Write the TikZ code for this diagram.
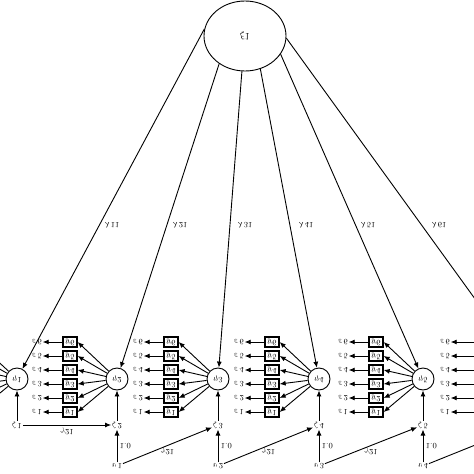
\documentclass[tikz,border=0pt]{standalone}
\usepackage{graphicx}
\usetikzlibrary{arrows.meta,shapes.geometric}
\newcommand{\flp}[1]{\scalebox{1}[-1]{#1}}
\begin{document}
\begin{tikzpicture}[x=1pt,y=-1pt,
  >={Latex[length=6pt,width=5pt]}, line width=0.9pt,
  lat/.style={circle,draw,minimum size=22pt,inner sep=0pt,font=\footnotesize},
  obs/.style={draw,line width=1.3pt,minimum width=14pt,minimum height=10pt,inner sep=0.5pt,font=\footnotesize},
  lab/.style={inner sep=0.5pt,font=\footnotesize}]
\useasboundingbox (0,0) rectangle (474,474);
\clip (0,0) rectangle (474,474);
\fill[white] (0,0) rectangle (474,474);
\node[ellipse,draw,minimum width=82pt,minimum height=70pt,font=\normalsize] (xi) at (245,36) {\flp{$\xi$1}};
% column 1 (its indicators lie beyond the left edge)
\node[lat] (eta1) at (17,379) {\flp{$\eta$\kern0.5pt 1}};
\node[lab] (zeta1) at (17,425) {\flp{$\zeta$\,1}};
\draw[->] (zeta1) -- (eta1);
\foreach \r/\yy in {6/342,5/356,4/370,3/384,2/398,1/412}{
  \coordinate (y1\r) at (-23,\yy);
  \draw[->] (eta1) -- (y1\r);
}
% columns 2-5
\foreach \k/\x in {2/117,3/218,4/319,5/423}{
  \node[lat] (eta\k) at (\x,379) {\flp{$\eta$\kern0.5pt\k}};
  \node[lab] (zeta\k) at (\x,425) {\flp{$\zeta$\,\k}};
  \draw[->] (zeta\k) -- (eta\k);
  \foreach \r/\yy in {6/342,5/356,4/370,3/384,2/398,1/412}{
    \node[obs] (y\k\r) at (\x-47,\yy) {\flp{$y$\kern0.3pt\r}};
    \node[lab] (e\k\r) at (\x-80,\yy) {\flp{$\varepsilon$\,\r}};
    \draw[->] (eta\k) -- (y\k\r.east);
    \draw[->] (y\k\r) -- (e\k\r);
  }
}
% column 6 (beyond the right edge)
\coordinate (eta6) at (525,368);
\coordinate (zeta6) at (525,425);
\foreach \r/\yy in {6/342,5/356,4/370,3/384,2/398,1/412}{
  \coordinate (y6\r) at (476,\yy);
  \node[lab] (e6\r) at (445,\yy) {\flp{$\varepsilon$\,\r}};
  \draw[->] (y6\r) -- (e6\r);
}
\foreach \j/\x in {1/117,2/218,3/319,4/423}{
  \node[lab] (v\j) at (\x,466) {\flp{$v$\,\j}};
}
\draw[->] (v1) -- node[right,lab,xshift=2pt]{\flp{1.0}} (zeta2);
\draw[->] (v2) -- node[right,lab,xshift=2pt]{\flp{1.0}} (zeta3);
\draw[->] (v3) -- node[right,lab,xshift=2pt]{\flp{1.0}} (zeta4);
\draw[->] (v4) -- node[right,lab,xshift=2pt]{\flp{1.0}} (zeta5);
\draw[->] (zeta1) -- node[below,lab,yshift=-2pt]{\flp{$\gamma$21}} (zeta2);
\draw[->] (v1) -- node[below,lab,yshift=-2pt]{\flp{$\gamma$21}} (zeta3);
\draw[->] (v2) -- node[below,lab,yshift=-2pt]{\flp{$\gamma$21}} (zeta4);
\draw[->] (v3) -- node[below,lab,yshift=-2pt]{\flp{$\gamma$21}} (zeta5);
\draw[->] (v4) -- (zeta6);
\draw[->] (xi.170) -- (eta1);
\draw[->] (xi.227) -- (eta2);
\draw[->] (xi.265) -- (eta3);
\draw[->] (xi.295) -- (eta4);
\draw[->] (xi.333) -- (eta5);
\draw[->] (xi.357) -- (eta6);
\node[lab] (l1) at (112,225) {\flp{$\lambda$\,11}};
\node[lab] (l2) at (180,225) {\flp{$\lambda$\,21}};
\node[lab] (l3) at (245,225) {\flp{$\lambda$\,31}};
\node[lab] (l4) at (306,225) {\flp{$\lambda$\,41}};
\node[lab] (l5) at (368,225) {\flp{$\lambda$\,51}};
\node[lab] (l6) at (439,225) {\flp{$\lambda$\,61}};
\end{tikzpicture}
\end{document}
